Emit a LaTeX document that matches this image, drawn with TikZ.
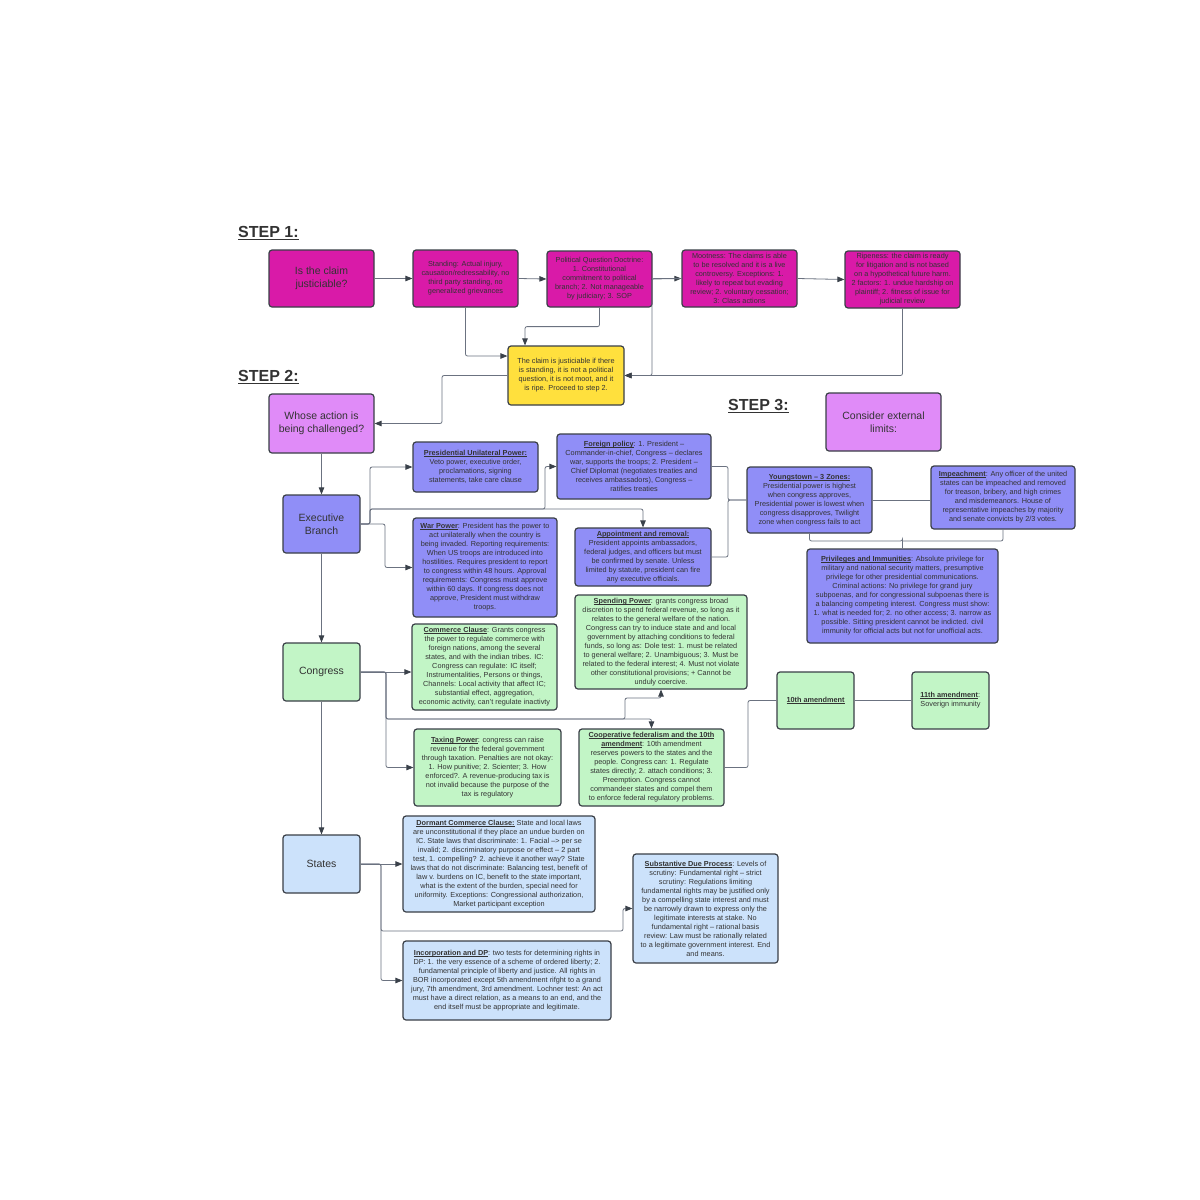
\documentclass[tikz,border=0pt]{standalone}
\usepackage{fontspec}
\setmainfont{Liberation Sans}
\usetikzlibrary{arrows.meta}
\definecolor{mag}{HTML}{D91AA8}
\definecolor{yel}{HTML}{FFE03D}
\definecolor{lpur}{HTML}{E08BF8}
\definecolor{peri}{HTML}{908EF7}
\definecolor{lgreen}{HTML}{C2F5C6}
\definecolor{lblue}{HTML}{CCE2FB}
\definecolor{bordc}{HTML}{3A3F47}
\definecolor{txtc}{HTML}{333333}
\definecolor{connc}{HTML}{6B7280}
\definecolor{headc}{HTML}{3A414A}
\newcommand{\ulb}[1]{\leavevmode\setbox0\hbox{\textbf{#1}}\rlap{\rule[-0.9pt]{\wd0}{0.45pt}}\box0\relax}
\tikzset{
  box/.style={draw=bordc, line width=1.2pt, rounded corners=3pt, inner sep=0pt,
    align=center, text=txtc, font=\fontsize{7.3}{9}\selectfont},
  bigbox/.style={box, font=\fontsize{10.5}{13}\selectfont},
  steplabel/.style={anchor=west, inner sep=0pt, text=txtc, font=\fontsize{16}{18}\selectfont\bfseries},
  conn/.style={draw=connc, line width=0.8pt, rounded corners=2pt},
  arr/.style={conn, -{Triangle[length=7pt,width=5.5pt,color=headc]}}
}
\begin{document}
\begin{tikzpicture}[x=1pt,y=-1pt]
\useasboundingbox[fill=white] (0,0) rectangle (1200,1200);

% STEP labels
\node[steplabel] (s1) at (238,233) {\underline{STEP 1:}};
\node[steplabel] (s2) at (238,377) {\underline{STEP 2:}};
\node[steplabel] (s3) at (728,406) {\underline{STEP 3:}};

% Step 1
\node[bigbox, fill=mag, minimum width=105, minimum height=57] (A) at (321.5,278.5) {Is the claim\\justiciable?};
\node[box, fill=mag, minimum width=105, minimum height=57] (B) at (465.5,278.5) {Standing: Actual injury,\\causation/redressability, no\\third party standing, no\\generalized grievances};
\node[box, fill=mag, minimum width=105, minimum height=56] (C) at (599.5,279) {Political Question Doctrine:\\1. Constitutional\\commitment to political\\branch; 2. Not manageable\\by judiciary; 3. SOP};
\node[box, fill=mag, minimum width=115, minimum height=57] (D) at (739.5,278.5) {Mootness: The claims is able\\to be resolved and it is a live\\controversy. Exceptions: 1.\\likely to repeat but evading\\review; 2. voluntary cessation;\\3: Class actions};
\node[box, fill=mag, minimum width=115, minimum height=57] (E) at (902.5,279.5) {Ripeness: the claim is ready\\for litigation and is not based\\on a hypothetical future harm.\\2 factors: 1. undue hardship on\\plaintiff; 2. fitness of issue for\\judicial review};
\node[box, fill=yel, minimum width=116, minimum height=59] (F) at (566,375.5) {The claim is justiciable if there\\is standing, it is not a political\\question, it is not moot, and it\\is ripe. Proceed to step 2.};

% Step 2
\node[bigbox, fill=lpur, minimum width=105, minimum height=59] (G) at (321.5,423.5) {Whose action is\\being challenged?};
\node[bigbox, fill=peri, minimum width=77, minimum height=58] (H) at (321.5,524) {Executive\\Branch};
\node[bigbox, fill=lgreen, minimum width=77, minimum height=58] (I) at (321.5,672) {Congress};
\node[bigbox, fill=lblue, minimum width=77, minimum height=58] (J) at (321.5,864) {States};

% Executive
\node[box, fill=peri, minimum width=125, minimum height=50] (K) at (475.5,467) {\ulb{Presidential Unilateral Power:}\\Veto power, executive order,\\proclamations, signing\\statements, take care clause};
\node[box, fill=peri, minimum width=154, minimum height=65] (L) at (634,466.5) {\ulb{Foreign policy}: 1. President –\\Commander-in-chief, Congress – declares\\war, supports the troops; 2. President –\\Chief Diplomat (negotiates treaties and\\receives ambassadors), Congress –\\ratifies treaties};
\node[box, fill=peri, minimum width=144, minimum height=99] (M) at (485,567.5) {\ulb{War Power}: President has the power to\\act unilaterally when the country is\\being invaded. Reporting requirements:\\When US troops are introduced into\\hostilities. Requires president to report\\to congress within 48 hours. Approval\\requirements: Congress must approve\\within 60 days. If congress does not\\approve, President must withdraw\\troops.};
\node[box, fill=peri, minimum width=136, minimum height=58] (N) at (643,557) {\ulb{Appointment and removal:}\\President appoints ambassadors,\\federal judges, and officers but must\\be confirmed by senate. Unless\\limited by statute, president can fire\\any executive officials.};

% Step 3
\node[bigbox, fill=lpur, minimum width=115, minimum height=58] (O) at (883.5,422) {Consider external\\limits:};
\node[box, fill=peri, minimum width=125, minimum height=66] (P) at (809.5,500) {\ulb{Youngstown – 3 Zones:}\\Presidential power is highest\\when congress approves,\\Presidential power is lowest when\\congress disapproves, Twilight\\zone when congress fails to act};
\node[box, fill=peri, minimum width=144, minimum height=63] (Q) at (1003,497.5) {\ulb{Impeachment}: Any officer of the united\\states can be impeached and removed\\for treason, bribery, and high crimes\\and misdemeanors. House of\\representative impeaches by majority\\and senate convicts by 2/3 votes.};
\node[box, fill=peri, minimum width=191, minimum height=94] (R) at (902.5,596) {\ulb{Privileges and Immunities}: Absolute privilege for\\military and national security matters, presumptive\\privilege for other presidential communications.\\Criminal actions: No privilege for grand jury\\subpoenas, and for congressional subpoenas there is\\a balancing competing interest. Congress must show:\\1. what is needed for; 2. no other access; 3. narrow as\\possible. Sitting president cannot be indicted. civil\\immunity for official acts but not for unofficial acts.};

% Congress
\node[box, fill=lgreen, minimum width=145, minimum height=86] (S) at (484.5,667) {\ulb{Commerce Clause}: Grants congress\\the power to regulate commerce with\\foreign nations, among the several\\states, and with the indian tribes. IC:\\Congress can regulate: IC itself;\\Instrumentalities, Persons or things,\\Channels: Local activity that affect IC;\\substantial effect, aggregation,\\economic activity, can't regulate inactivty};
\node[box, fill=lgreen, minimum width=172, minimum height=94] (T) at (661,642) {\ulb{Spending Power}: grants congress broad\\discretion to spend federal revenue, so long as it\\relates to the general welfare of the nation.\\Congress can try to induce state and and local\\government by attaching conditions to federal\\funds, so long as: Dole test: 1. must be related\\to general welfare; 2. Unambiguous; 3. Must be\\related to the federal interest; 4. Must not violate\\other constitutional provisions; + Cannot be\\unduly coercive.};
\node[box, fill=lgreen, minimum width=147, minimum height=77] (U) at (487.5,767.5) {\ulb{Taxing Power}: congress can raise\\revenue for the federal government\\through taxation. Penalties are not okay:\\1. How punitive; 2. Scienter; 3. How\\enforced?. A revenue-producing tax is\\not invalid because the purpose of the\\tax is regulatory};
\node[box, fill=lgreen, minimum width=145, minimum height=77] (V) at (651.5,767.5) {\ulb{Cooperative federalism and the 10th}\\\ulb{amendment}: 10th amendment\\reserves powers to the states and the\\people. Congress can: 1. Regulate\\states directly; 2. attach conditions; 3.\\Preemption. Congress cannot\\commandeer states and compel them\\to enforce federal regulatory problems.};
\node[box, fill=lgreen, minimum width=77, minimum height=57] (W) at (815.5,700.5) {\ulb{10th amendment}};
\node[box, fill=lgreen, minimum width=77, minimum height=57, align=left] (X) at (950.5,700.5) {\ulb{11th amendment}:\\Soverign immunity};

% States
\node[box, fill=lblue, minimum width=192, minimum height=96] (Y) at (499,864) {\ulb{Dormant Commerce Clause:} State and local laws\\are unconstitutional if they place an undue burden on\\IC. State laws that discriminate: 1. Facial –> per se\\invalid; 2. discriminatory purpose or effect – 2 part\\test, 1. compelling? 2. achieve it another way? State\\laws that do not discriminate: Balancing test, benefit of\\law v. burdens on IC, benefit to the state important,\\what is the extent of the burden, special need for\\uniformity. Exceptions: Congressional authorization,\\Market participant exception};
\node[box, fill=lblue, minimum width=208, minimum height=79] (Z) at (507,980.5) {\ulb{Incorporation and DP}: two tests for determining rights in\\DP: 1. the very essence of a scheme of ordered liberty; 2.\\fundamental principle of liberty and justice. All rights in\\BOR incorporated except 5th amendment rifght to a grand\\jury, 7th amendment, 3rd amendment. Lochner test: An act\\must have a direct relation, as a means to an end, and the\\end itself must be appropriate and legitimate.};
\node[box, fill=lblue, minimum width=145, minimum height=109] (AA) at (705.5,908.5) {\ulb{Substantive Due Process}: Levels of\\scrutiny: Fundamental right – strict\\scrutiny: Regulations limiting\\fundamental rights may be justified only\\by a compelling state interest and must\\be narrowly drawn to express only the\\legitimate interests at stake. No\\fundamental right – rational basis\\review: Law must be rationally related\\to a legitimate government interest. End\\and means.};

% ---- connectors ----
% Step 1
\draw[arr] (A.east) -- (B.west);
\draw[arr] (B.east) -- (C.west);
\draw[arr] (C.east) -- (D.west);
\draw[arr] (D.east) -- (E.west);
\draw[arr] (B.south) |- ([yshift=19.5pt]F.west);
\draw[arr] (C.south) -- ++(0,19) -| ([xshift=-41pt]F.north);
\draw[arr] (D.west) -- (652,278.5) -- (652,375.5) -- (F.east);
\draw[arr] (E.south) |- (F.east);
\draw[arr] (F.west) -- (442,375.5) |- (G.east);

% Step 2 spine
\draw[arr] (G.south) -- (H.north);
\draw[arr] (H.south) -- (I.north);
\draw[arr] (I.south) -- (J.north);

% Executive
\draw[arr] (H.east) -- (370,524) |- (K.west);
\draw[arr] (H.east) -- (370,524) -- (370,509) -- (545,509) |- (L.west);
\draw[arr] (H.east) -- (370,524) -- (370,509) -| (N.north);
\draw[arr] (H.east) -- (385,524) |- (M.west);

% Step 3 brackets
\draw[conn] (L.east) -- (728,466.5) |- (P.west);
\draw[conn] (N.east) -- (728,557) |- (P.west);
\draw[conn] (P.east) -- (Q.west |- P.east);
\draw[conn] (P.south) |- (902.5,541) -| (R.north);
\draw[conn] (Q.south) |- (902.5,541);

% Congress
\draw[arr] (I.east) -- (S.west |- I.east);
\draw[arr] (I.east) -- (386,672) -- (386,719) -- (625,719) -- (625,698) -| (T.south);
\draw[arr] (I.east) -- (386,672) -- (386,719) -| (V.north);
\draw[arr] (I.east) -- (386,672) |- (U.west);
\draw[conn] (V.east) -- (748,767.5) |- (W.west);
\draw[conn] (W.east) -- (X.west);

% States
\draw[arr] (J.east) -- (Y.west);
\draw[arr] (J.east) -- (381,864) |- (Z.west);
\draw[arr] (J.east) -- (381,864) -- (381,931) -- (623,931) |- (AA.west);
\end{tikzpicture}
\end{document}
